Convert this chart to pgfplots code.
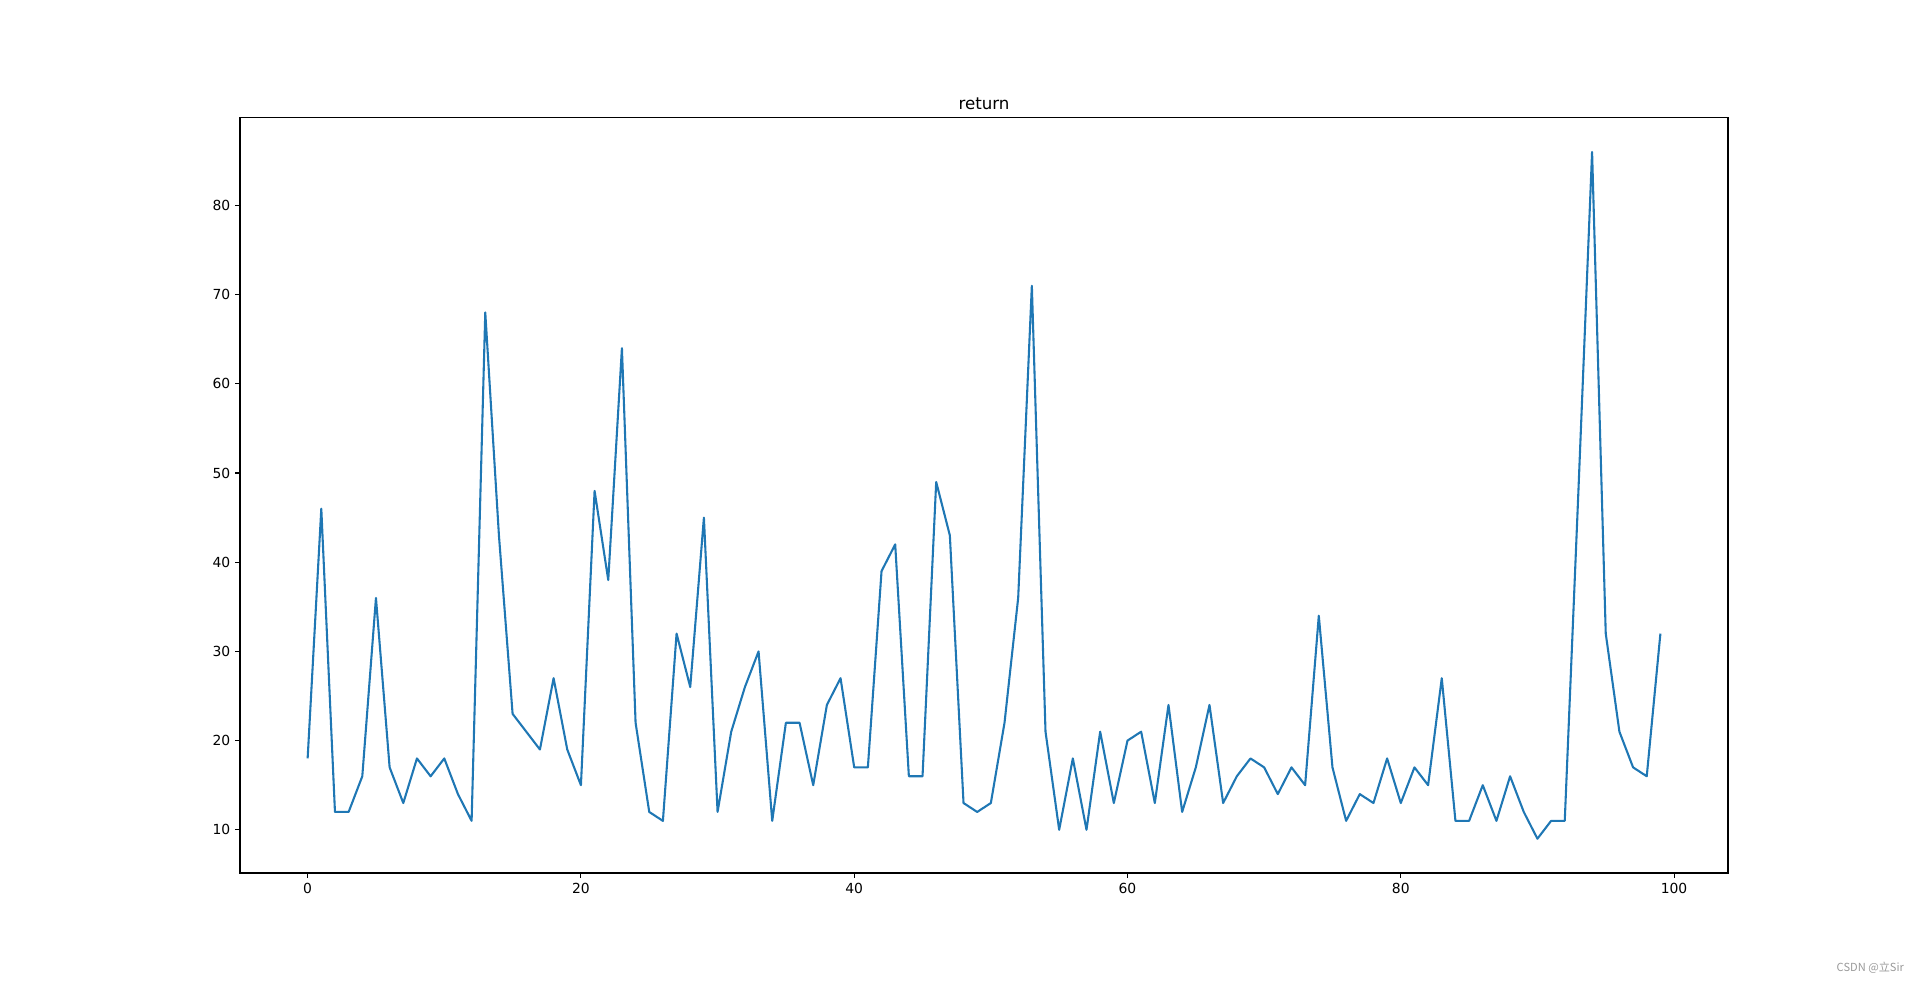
\documentclass[border=0pt]{standalone}
\usepackage{pgfplots}
\pgfplotsset{compat=1.18}
\usepackage{fontspec}
\setmainfont{DejaVu Sans}
\newfontfamily\cjk{Noto Sans CJK SC}
\definecolor{mplblue}{HTML}{1F77B4}
\begin{document}
\begin{tikzpicture}
\path[use as bounding box] (0,0) rectangle (1382.4pt,706.3pt);
\begin{axis}[
  at={(172.8pt,77.7pt)}, anchor=south west,
  scale only axis, width=1071.4pt, height=543.9pt,
  xmin=-4.95, xmax=103.95, ymin=5.15, ymax=89.85,
  xtick={0,20,40,60,80,100}, ytick={10,20,30,40,50,60,70,80},
  tick align=outside, tick pos=left,
  major tick length=3.5pt,
  every tick/.style={black, line width=0.8pt},
  axis line style={line width=0.8pt},
  tick label style={font=\fontsize{10}{12}\selectfont},
  /pgf/number format/assume math mode=true,
  xticklabel style={yshift=-0.5pt},
  title={return},
  title style={at={(0.5,1)}, anchor=base, yshift=0pt, font=\fontsize{12}{14}\selectfont},
]
\addplot[mplblue, line width=1.5pt, line join=round] coordinates {
(0,18)(1,46)(2,12)(3,12)(4,16)(5,36)(6,17)(7,13)(8,18)(9,16)
(10,18)(11,14)(12,11)(13,68)(14,43)(15,23)(16,21)(17,19)(18,27)(19,19)
(20,15)(21,48)(22,38)(23,64)(24,22)(25,12)(26,11)(27,32)(28,26)(29,45)
(30,12)(31,21)(32,26)(33,30)(34,11)(35,22)(36,22)(37,15)(38,24)(39,27)
(40,17)(41,17)(42,39)(43,42)(44,16)(45,16)(46,49)(47,43)(48,13)(49,12)
(50,13)(51,22)(52,36)(53,71)(54,21)(55,10)(56,18)(57,10)(58,21)(59,13)
(60,20)(61,21)(62,13)(63,24)(64,12)(65,17)(66,24)(67,13)(68,16)(69,18)
(70,17)(71,14)(72,17)(73,15)(74,34)(75,17)(76,11)(77,14)(78,13)(79,18)
(80,13)(81,17)(82,15)(83,27)(84,11)(85,11)(86,15)(87,11)(88,16)(89,12)
(90,9)(91,11)(92,11)(93,48)(94,86)(95,32)(96,21)(97,17)(98,16)(99,32)
};
\end{axis}
\node[anchor=base east, text=gray!80, font=\cjk\fontsize{8}{9}\selectfont, inner sep=0pt] at (1371pt,7pt) {CSDN @立Sir};
\end{tikzpicture}
\end{document}
